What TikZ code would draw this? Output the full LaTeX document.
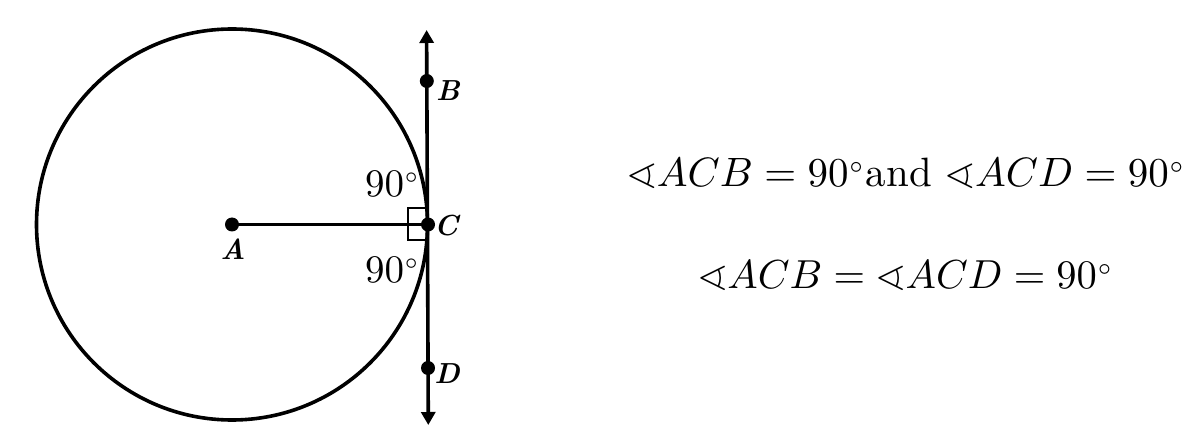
\documentclass[tikz,border=0pt]{standalone}
\usepackage{amssymb}
\usepackage{graphicx}
\usetikzlibrary{arrows.meta}
\tikzset{
  thick line/.style={line width=3.6pt},
  dot/.style={circle, fill=black, inner sep=0pt, minimum size=14pt},
  ptlabel/.style={inner sep=0pt},
  anglabel/.style={inner sep=0pt, anchor=base west},
  eqtext/.style={inner sep=0pt, anchor=base west}
}
\newcommand{\dg}{^{\scriptscriptstyle\circ}}
\newcommand{\pl}[1]{\scalebox{2.9}{\bfseries\itshape #1}}
\begin{document}
\begin{tikzpicture}[x=1pt,y=-1pt]
\useasboundingbox (0,0) rectangle (1199,446);
\coordinate (A) at (232,224.5);
\coordinate (top) at (426.6,30);
\coordinate (bot) at (428.3,425);
% circle
\draw[thick line] (A) circle[radius=195.5pt];
% tangent line
\draw[thick line, {Triangle[width=14pt,length=13pt]}-{Triangle[width=14pt,length=13pt]}] (top) -- (bot);
% points
\node[dot] (Ad) at (A) {};
\node[dot] (Bd) at (426.8,81) {};
\node[dot] (Cd) at (428,224.5) {};
\node[dot] (Dd) at (428,368) {};
% radius
\draw[thick line] (Ad.center) -- (Cd.center);
% right angle mark
\draw[line width=1.6pt] (408,208) rectangle (428,240);
% point labels
\node[ptlabel] (Al) at (233,249) {\pl{A}};
\node[ptlabel] (Bl) at (448,91) {\pl{B}};
\node[ptlabel] (Cl) at (446,226) {\pl{C}};
\node[ptlabel] (Dl) at (447,374) {\pl{D}};
% angle labels
\node[anglabel] (a1) at (365,197) {\scalebox{3.9}{$90\dg$}};
\node[anglabel] (a2) at (365,283) {\scalebox{3.9}{$90\dg$}};
% equations
\node[eqtext] (e1) at (627,187) {\scalebox{4.1}{$\sphericalangle ACB = 90\dg$and $\sphericalangle ACD = 90\dg$}};
\node[eqtext] (e2) at (698,289) {\scalebox{4.05}{$\sphericalangle ACB = \sphericalangle ACD = 90\dg$}};
\end{tikzpicture}
\end{document}
